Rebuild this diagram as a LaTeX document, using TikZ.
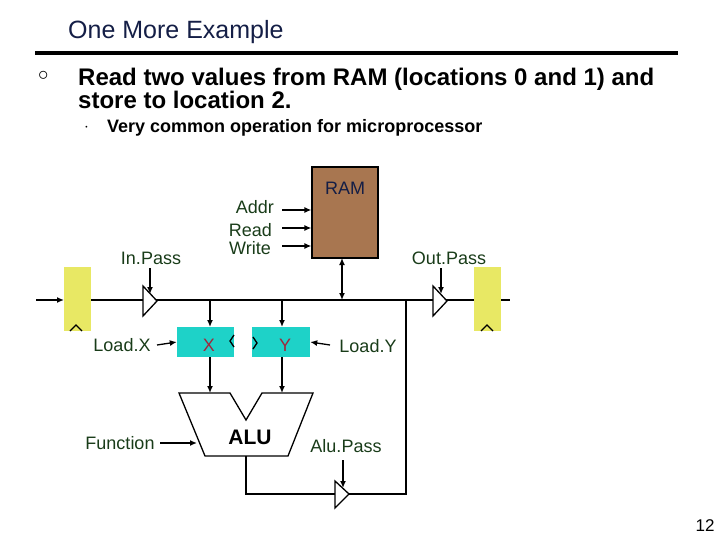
\documentclass[tikz,border=0pt]{standalone}
\usepackage{fontspec}
\setmainfont{Liberation Sans}
\usetikzlibrary{arrows.meta}
\definecolor{navy}{RGB}{20,30,70}
\definecolor{lbl}{RGB}{25,60,25}
\definecolor{ramc}{RGB}{168,118,80}
\definecolor{regy}{RGB}{232,232,100}
\definecolor{regc}{RGB}{30,210,200}
\definecolor{xy}{RGB}{160,40,60}
\begin{document}
\begin{tikzpicture}[x=1pt,y=-1pt,
  lab/.style={text=lbl,font=\fontsize{18}{19}\selectfont,inner sep=0pt},
  wire/.style={line width=1.3pt},
  arr/.style={wire,-{Latex[length=7pt,width=6pt]}},
  tri/.style={draw,line width=1.3pt,fill=white}]
\useasboundingbox (0,0) rectangle (720,540);
% header
\node[text=navy,font=\fontsize{25}{26}\selectfont,anchor=west,inner sep=0pt] (title) at (68,32) {One More Example};
\draw[line width=4pt] (35,53) -- (678,53);
\node[font=\fontsize{20}{20}\selectfont,anchor=west,inner sep=0pt] (b1) at (38,76) {$\circ$};
\node[font=\bfseries\fontsize{24}{21}\selectfont,anchor=north west,align=left,inner sep=0pt] (t1) at (78,68)
  {Read two values from RAM (locations 0 and 1) and\\store to location 2.};
\node[font=\bfseries\fontsize{18}{16}\selectfont,anchor=west,inner sep=0pt] (b2) at (84,128) {$\cdot$};
\node[font=\bfseries\fontsize{18}{16}\selectfont,anchor=west,inner sep=0pt] (t2) at (107,128) {Very common operation for microprocessor};
\node[font=\fontsize{17}{16}\selectfont] (pg) at (705,526) {12};
% registers
\node[fill=regy,minimum width=27pt,minimum height=64pt,inner sep=0pt] (rl) at (77.5,299) {};
\node[fill=regy,minimum width=27pt,minimum height=64pt,inner sep=0pt] (rr) at (487.5,299) {};
\draw[wire] (70,331) -- (76,325) -- (82,331);
\draw[wire] (481,331) -- (487,325) -- (493,331);
% RAM
\node[draw,wire,fill=ramc,minimum width=66pt,minimum height=91pt,inner sep=0pt] (ram) at (345,212.5) {};
\node[text=navy,font=\fontsize{18}{16}\selectfont] (ramt) at (345,188) {RAM};
\node[lab,anchor=east] (addr) at (274,207) {Addr};
\node[lab,anchor=east] (rd) at (272,230) {Read};
\node[lab,anchor=east] (wr) at (271,248) {Write};
\coordinate (a1) at (282,210); \coordinate (a2) at (282,228); \coordinate (a3) at (282,246);
\draw[arr] (a1) -- (a1 -| ram.west);
\draw[arr] (a2) -- (a2 -| ram.west);
\draw[arr] (a3) -- (a3 -| ram.west);
% bus
\coordinate (in) at (36,300);
\coordinate (bR) at (510,300);
\coordinate (tap) at (406,300);
\draw[arr] (in) -- (64,300);
\draw[wire] (91,300) -- (474,300);
\draw[wire] (501,300) -- (bR);
\draw[wire,{Latex[length=7pt,width=6pt]}-{Latex[length=7pt,width=6pt]}] (342,258) -- (342,300);
% pass gates
\draw[tri] (143,286) -- (157,301) -- (143,316) -- cycle;
\draw[tri] (433,286) -- (447,301) -- (433,316) -- cycle;
\draw[tri] (335,481) -- (349,494) -- (335,508) -- cycle;
\node[lab] (inp) at (151,258) {In.Pass};
\node[lab] (outp) at (449,258) {Out.Pass};
\node[lab] (alup) at (346,446) {Alu.Pass};
\draw[arr] (150,268) -- (150,294);
\draw[arr] (441,268) -- (441,294);
\draw[arr] (343,460) -- (343,488);
% X and Y
\node[fill=regc,minimum width=57pt,minimum height=30pt,inner sep=0pt] (X) at (205.5,342) {};
\node[fill=regc,minimum width=58pt,minimum height=30pt,inner sep=0pt] (Y) at (281,342) {};
\node[text=xy,font=\fontsize{18}{16}\selectfont] (xt) at (209,345) {X};
\node[text=xy,font=\fontsize{18}{16}\selectfont] (yt) at (285,345) {Y};
\draw[wire] (234,335) -- (230,341) -- (234,347);
\draw[wire] (253,337) -- (257,343) -- (253,349);
\node[lab] (lx) at (122,345) {Load.X};
\node[lab] (ly) at (368,346) {Load.Y};
\draw[arr] (157,345) -- (X.west);
\draw[arr] (330,345) -- (Y.east);
\draw[arr] (210,300) -- (210,327);
\draw[arr] (282,300) -- (282,327);
% ALU
\draw[wire,fill=white] (179,393) -- (230,393) -- (246,420) -- (262,393) -- (313,393)
  -- (288,456) -- (205,456) -- cycle;
\node[font=\bfseries\fontsize{21}{19}\selectfont] (alu) at (250,437) {ALU};
\draw[arr] (210,357) -- (210,393);
\draw[arr] (282,357) -- (282,393);
\node[lab] (fn) at (120,443) {Function};
\draw[arr] (160,443) -- (197,443);
% feedback
\draw[wire] (246,456) -- (246,494) -- (335,494);
\draw[wire] (349,494) -- (406,494) -- (tap);
\end{tikzpicture}
\end{document}
